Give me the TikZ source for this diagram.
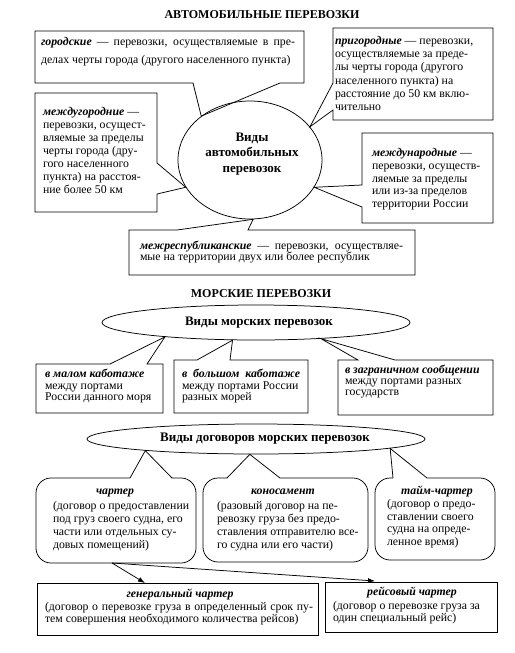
\documentclass[tikz,border=0pt]{standalone}
\usepackage{fontspec}
\setmainfont{Liberation Serif}
\usetikzlibrary{shapes.geometric,arrows.meta}
\newcommand\trm[1]{\textbf{\textit{#1}}}
\begin{document}
\begin{tikzpicture}[x=1pt,y=-1pt,
  ln/.style={line width=0.75pt, line join=miter},
  txt/.style={inner sep=0pt, outer sep=0pt, align=left, anchor=base west, font=\fontsize{11.8}{13}\selectfont},
  hd/.style={inner sep=0pt, anchor=base, font=\fontsize{12}{14}\selectfont\bfseries},
  etx/.style={inner sep=0pt, anchor=center, align=center, font=\fontsize{13}{15.5}\selectfont\bfseries},
  ell/.style={ellipse, draw, ln, inner sep=0pt},
  arr/.style={ln, -{Latex[length=7pt,width=5pt]}},
]
\path[use as bounding box, fill=white] (0,0) rectangle (514,653);

% ---------- Section 1 ----------
\node[hd] (t1) at (262,19) {АВТОМОБИЛЬНЫЕ ПЕРЕВОЗКИ};
\node[ell, minimum width=144pt, minimum height=118pt] (auto) at (250,160) {};
\node[etx] (autoT) at (252,154) {Виды\\автомобильных\\перевозок};

\coordinate (gorTip) at (auto.138);
\coordinate (priTip) at (auto.29);
\coordinate (mgTip)  at (auto.203.2);
\coordinate (mdTip)  at (auto.337.4);
\coordinate (mrTip)  at (auto.273.8);

\draw[ln] (35,31) -- (304,31) -- (304,83) -- (280,83) -- (gorTip) -- (193,83) -- (35,83) -- cycle;
\draw[ln] (333,28) -- (493,28) -- (493,120) -- (333,120) -- (333,110) -- (priTip) -- (333,83) -- cycle;
\draw[ln] (35,93) -- (157,93) -- (157,163) -- (mgTip) -- (157,194) -- (157,212) -- (35,212) -- cycle;
\draw[ln] (362,133) -- (493,133) -- (493,223) -- (362,223) -- (362,207) -- (mdTip) -- (362,185) -- cycle;
\draw[ln] (129,230) -- (177,230) -- (mrTip) -- (248,230) -- (415,230) -- (415,275) -- (129,275) -- cycle;

\node[txt, font=\fontsize{11.8}{18}\selectfont] (gor) at (41,63.5)
  {\makebox[254pt][s]{\trm{городские} — перевозки, осуществляемые в пре-}\\делах черты города (другого населенного пункта)};
\node[txt, font=\fontsize{11.8}{13.3}\selectfont] (pri) at (335,110.7)
  {\trm{пригородные} — перевозки,\\осуществляемые за преде-\\лы черты города (другого\\населенного пункта) на\\расстояние до 50 км вклю-\\чительно};
\node[txt] (mg) at (43,193.5)
  {\trm{междугородние} —\\перевозки, осущест-\\вляемые за пределы\\черты города (дру-\\гого населенного\\пункта) на расстоя-\\ние более 50 км};
\node[txt, font=\fontsize{11.8}{12.75}\selectfont] (md) at (372,207.5)
  {\trm{международные} —\\перевозки, осуществ-\\ляемые за пределы\\или из-за пределов\\территории России};
\node[txt, font=\fontsize{11.8}{11.7}\selectfont] (mr) at (140,260.9)
  {\makebox[263pt][s]{\trm{межреспубликанские} — перевозки, осуществляе-}\\мые на территории двух или более республик};

% ---------- Section 2 ----------
\node[hd] (t2) at (261,297.6) {МОРСКИЕ ПЕРЕВОЗКИ};
\node[ell, minimum width=308pt, minimum height=35pt] (morE) at (256,322.5) {};
\node[etx] (morT) at (259,322.5) {Виды морских перевозок};

\coordinate (k1Tip) at (morE.189.3);
\coordinate (k2Tip) at (morE.217);
\coordinate (k3Tip) at (morE.346.7);

\draw[ln] (36,364) -- (110,364) -- (k1Tip) -- (147,364) -- (163,364) -- (163,413) -- (36,413) -- cycle;
\draw[ln] (174,360) -- (197,360) -- (k2Tip) -- (230,360) -- (308,360) -- (308,413) -- (174,413) -- cycle;
\draw[ln] (338,360) -- (358,360) -- (k3Tip) -- (395,360) -- (493,360) -- (493,415) -- (338,415) -- cycle;

\node[txt, font=\fontsize{11.8}{11.7}\selectfont] (k1) at (45,400.9)
  {\trm{в малом каботаже}\\между портами\\России данного моря};
\node[txt, font=\fontsize{11.8}{11.7}\selectfont] (k2) at (182,400.9)
  {\makebox[118pt][s]{\trm{в большом каботаже}}\\между портами России\\разных морей};
\node[txt, font=\fontsize{11.8}{11.2}\selectfont] (k3) at (345,395.8)
  {\trm{в заграничном сообщении}\\между портами разных\\государств};

% ---------- Section 3 ----------
\node[ell, minimum width=338pt, minimum height=30pt] (dogE) at (256,439) {};
\node[etx] (dogT) at (265,439) {Виды договоров морских перевозок};

\coordinate (chTip) at (dogE.186.4);
\coordinate (koTip) at (dogE.248);
\coordinate (tcTip) at (dogE.356.8);

\draw[ln, rounded corners=15pt] (172,478) -- (196,478) -- (196,563) -- (36,563) -- (36,478) -- (130,478);
\draw[ln] (130,478) -- (chTip) -- (172,478);
\draw[ln, rounded corners=15pt] (280,478) -- (368,478) -- (368,562) -- (203,562) -- (203,478) -- (227,478);
\draw[ln] (227,478) -- (koTip) -- (280,478);
\draw[ln, rounded corners=15pt] (427,478) -- (495,478) -- (495,560) -- (375,560) -- (375,478) -- (393,478);
\draw[ln] (393,478) -- (tcTip) -- (427,478);

\node[txt, anchor=base] (chH) at (115,494.5) {\trm{чартер}};
\node[txt] (chB) at (53,548.5)
  {(договор о предоставлении\\под груз своего судна, его\\части или отдельных су-\\довых помещений)};
\node[txt, anchor=base] (koH) at (283,494.5) {\trm{коносамент}};
\node[txt] (koB) at (217,548.5)
  {(разовый договор на пе-\\ревозку груза без предо-\\ставления отправителю все-\\го судна или его части)};
\node[txt, anchor=base] (tcH) at (437,494.5) {\trm{тайм-чартер}};
\node[txt, font=\fontsize{11.8}{12.7}\selectfont] (tcB) at (387,545.6)
  {(договор о предо-\\ставлении своего\\судна на опреде-\\ленное время)};

% ---------- Bottom ----------
\draw[ln] (37,583) rectangle (318,635);
\draw[ln] (325,582) rectangle (497,632);
\coordinate (chS) at (112,563);
\coordinate (gnT) at (145,583);
\coordinate (rsT) at (375,581);
\draw[arr] (chS) -- (gnT);
\draw[arr] (chS) -- (rsT);

\node[txt, anchor=base] (gnH) at (180,597.5) {\trm{генеральный чартер}};
\node[txt, font=\fontsize{11.8}{12}\selectfont] (gnB) at (45,622.5)
  {\makebox[268pt][s]{(договор о перевозке груза в определенный срок пу-}\\тем совершения необходимого количества рейсов)};
\node[txt, anchor=base] (rsH) at (412,595.5) {\trm{рейсовый чартер}};
\node[txt, font=\fontsize{11.8}{12}\selectfont] (rsB) at (333,621.5)
  {(договор о перевозке груза за\\один специальный рейс)};
\end{tikzpicture}
\end{document}
